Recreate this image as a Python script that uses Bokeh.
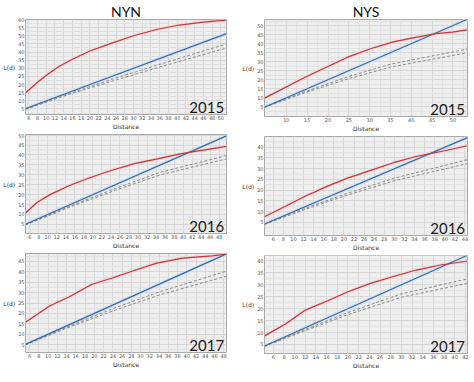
from bokeh.plotting import figure
from bokeh.layouts import row, column
from bokeh.models import Range1d, FixedTicker, Label
from bokeh.embed import file_html
from bokeh.resources import INLINE

# ---------------- data ----------------
# NYN 2015
nyn15_xr = (5.25, 51.3); nyn15_yr = (1.6, 60.0)
nyn15_xt = list(range(6, 51, 2)); nyn15_yt = list(range(5, 61, 5))
nyn15_red_x = [5.3, 8, 10.5, 13, 16, 20, 25, 30, 35.5, 40.5, 46, 51.2]
nyn15_red_y = [15, 21.4, 26.7, 31.3, 35.6, 40.6, 45.5, 50, 54, 56.6, 58.4, 59.6]
nyn15_blue_x = [5.3, 51.3]; nyn15_blue_y = [5.3, 51.3]
nyn15_env_x = [5.3, 15, 25, 35, 51.3]
nyn15_up_y = [5.0, 14.3, 23.2, 31.6, 45.0]
nyn15_lo_y = [4.8, 13.8, 22.0, 30.0, 42.5]

# NYS 2015
nys15_xr = (4.75, 53.5); nys15_yr = (-0.4, 53.4)
nys15_xt = list(range(10, 51, 5)); nys15_yt = list(range(5, 51, 5))
nys15_red_x = [4.75, 14.5, 24.7, 30.2, 35.7, 40.4, 45.9, 49.8, 53.5]
nys15_red_y = [9.8, 21.4, 32.5, 37.2, 41.0, 43.2, 45.6, 46.4, 47.6]
nys15_blue_x = [4.75, 53.5]; nys15_blue_y = [4.75, 53.5]
nys15_env_x = [4.75, 15, 25, 35, 53.5]
nys15_up_y = [4.9, 13.8, 21.8, 28.6, 37.0]
nys15_lo_y = [4.7, 13.2, 20.6, 27.0, 35.0]

# NYN 2016
nyn16_xr = (5.06, 49.6); nyn16_yr = (0.4, 50.3)
nyn16_xt = list(range(6, 49, 2)); nyn16_yt = list(range(5, 51, 5))
nyn16_red_x = [5.06, 7.6, 10.5, 14.8, 19.9, 24.2, 29.2, 34.3, 39.3, 44.4, 49.6]
nyn16_red_y = [10.7, 16.0, 20.0, 24.6, 29.0, 32.3, 35.6, 38.0, 40.5, 42.4, 44.3]
nyn16_blue_x = [5.06, 49.6]; nyn16_blue_y = [5.06, 49.6]
nyn16_env_x = [5.06, 15, 25, 35, 49.6]
nyn16_up_y = [4.9, 14.3, 23.1, 31.3, 39.7]
nyn16_lo_y = [4.7, 13.8, 22.2, 30.0, 38.0]

# NYS 2016
nys16_xr = (4.25, 44.5); nys16_yr = (-1.1, 45.0)
nys16_xt = list(range(6, 45, 2)); nys16_yt = list(range(5, 41, 5))
nys16_red_x = [4.25, 8.5, 12.3, 16.9, 20.7, 25.3, 29.8, 34.3, 38.8, 44.5]
nys16_red_y = [7.6, 12.6, 17.2, 22.0, 25.6, 29.2, 32.8, 35.7, 37.8, 40.7]
nys16_blue_x = [4.25, 44.5]; nys16_blue_y = [4.25, 44.5]
nys16_env_x = [4.25, 12, 20, 30, 44.5]
nys16_up_y = [4.2, 11.3, 18.0, 25.6, 34.2]
nys16_lo_y = [4.1, 10.8, 17.2, 24.4, 32.4]

# NYN 2017
nyn17_xr = (5.1, 48.6); nyn17_yr = (1.2, 48.8)
nyn17_xt = list(range(6, 49, 2)); nyn17_yt = list(range(5, 46, 5))
nyn17_red_x = [5.1, 7.5, 10.4, 14.6, 19.5, 23.7, 28.6, 33.5, 39.1, 45.5, 48.6]
nyn17_red_y = [15.7, 19.3, 23.7, 28.0, 34.0, 36.9, 40.6, 44.2, 46.6, 47.7, 48.5]
nyn17_blue_x = [5.1, 48.6]; nyn17_blue_y = [5.1, 48.6]
nyn17_env_x = [5.1, 14, 24, 34, 48.6]
nyn17_up_y = [5.0, 13.4, 22.3, 30.3, 40.3]
nyn17_lo_y = [4.9, 12.9, 21.2, 28.8, 37.9]

# NYS 2017
nys17_xr = (4.35, 42.4); nys17_yr = (1.2, 42.3)
nys17_xt = list(range(6, 43, 2)); nys17_yt = list(range(5, 41, 5))
nys17_red_x = [4.35, 8.3, 12.0, 16.3, 20.0, 24.2, 28.5, 32.8, 37.1, 42.4]
nys17_red_y = [8.6, 13.6, 19.4, 23.4, 27.1, 30.6, 33.5, 36.2, 38.2, 40.0]
nys17_blue_x = [4.35, 42.4]; nys17_blue_y = [4.35, 42.4]
nys17_env_x = [4.35, 12, 20, 30, 42.4]
nys17_up_y = [4.3, 11.3, 18.4, 26.2, 32.5]
nys17_lo_y = [4.2, 10.8, 17.5, 24.8, 30.6]

RED = "#c0393e"
BLUE = "#3a6aa3"
GRAY = "#8c8c8c"


def mids(t):
    step = t[1] - t[0]
    return [t[0] - step / 2] + [v + step / 2 for v in t]


def panel(title, year, xr, yr, xt, yt, rx, ry, bx, by, ex, uy, ly,
          fw, fh, mbl, mbr, mbt, mbb, xminor):
    p = figure(frame_width=fw, frame_height=fh, output_backend="svg",
               toolbar_location=None, title=title,
               x_range=Range1d(*xr), y_range=Range1d(*yr),
               min_border_left=mbl, min_border_right=mbr,
               min_border_top=mbt, min_border_bottom=mbb,
               border_fill_color="white")
    p.background_fill_color = "#eeeeee"
    p.outline_line_color = "#a8a8a8"
    if title:
        p.title.align = "center"
        p.title.text_font = "Lato"
        p.title.text_font_style = "normal"
        p.title.text_font_size = "14px"
        p.title.text_color = "#111111"
        p.title.standoff = 0
        p.title.offset = 0
    p.xaxis.ticker = FixedTicker(ticks=xt, minor_ticks=(mids(xt) if xminor else []))
    p.yaxis.ticker = FixedTicker(ticks=yt, minor_ticks=mids(yt))
    for ax in (p.xaxis[0], p.yaxis[0]):
        ax.axis_line_color = None
        ax.major_tick_line_color = None
        ax.minor_tick_line_color = None
        ax.major_tick_out = 0
        ax.major_tick_in = 0
        ax.minor_tick_out = 0
        ax.minor_tick_in = 0
        ax.major_label_text_font = "DejaVu Sans"
        ax.major_label_text_font_size = "5px"
        ax.major_label_text_color = "#555555"
        ax.major_label_standoff = 1
        ax.axis_label_text_font = "DejaVu Sans"
        ax.axis_label_text_font_size = "6px"
        ax.axis_label_text_font_style = "normal"
        ax.axis_label_text_color = "#333333"
        ax.axis_label_standoff = 0
    p.xaxis.axis_label = "Distance"
    p.yaxis.axis_label = "L(d)"
    try:
        p.yaxis[0].axis_label_orientation = "horizontal"
    except Exception:
        pass
    p.xgrid.grid_line_color = "#d8d8d8"
    p.ygrid.grid_line_color = "#d8d8d8"
    p.xgrid.minor_grid_line_color = "#e2e2e2"
    p.ygrid.minor_grid_line_color = "#e2e2e2"
    # soft halos
    p.line(bx, by, line_color="#d3e3f2", line_width=3.5)
    p.line(rx, ry, line_color="#f3d6d6", line_width=3)
    # envelopes
    p.line(ex, uy, line_color=GRAY, line_width=1, line_dash="3 2")
    p.line(ex, ly, line_color=GRAY, line_width=1, line_dash="3 2")
    # lines
    p.line(bx, by, line_color=BLUE, line_width=1.2)
    p.line(rx, ry, line_color=RED, line_width=1.2)
    lab = Label(x=xr[1] - 0.012 * (xr[1] - xr[0]), y=yr[0] + 0.015 * (yr[1] - yr[0]),
                text=year, text_align="right", text_baseline="bottom",
                text_font="Lato", text_font_style="normal",
                text_font_size="15px", text_color="#1a1a1a")
    p.add_layout(lab)
    return p


MB = 19

p1 = panel("NYN", "2015", nyn15_xr, nyn15_yr, nyn15_xt, nyn15_yt,
           nyn15_red_x, nyn15_red_y, nyn15_blue_x, nyn15_blue_y,
           nyn15_env_x, nyn15_up_y, nyn15_lo_y, 201, 95, 18, 13, 14, MB, False)
p3 = panel(None, "2016", nyn16_xr, nyn16_yr, nyn16_xt, nyn16_yt,
           nyn16_red_x, nyn16_red_y, nyn16_blue_x, nyn16_blue_y,
           nyn16_env_x, nyn16_up_y, nyn16_lo_y, 201, 99, 18, 13, 1, MB, False)
p5 = panel(None, "2017", nyn17_xr, nyn17_yr, nyn17_xt, nyn17_yt,
           nyn17_red_x, nyn17_red_y, nyn17_blue_x, nyn17_blue_y,
           nyn17_env_x, nyn17_up_y, nyn17_lo_y, 201, 99, 18, 13, 1, MB, False)

p2 = panel("NYS", "2015", nys15_xr, nys15_yr, nys15_xt, nys15_yt,
           nys15_red_x, nys15_red_y, nys15_blue_x, nys15_blue_y,
           nys15_env_x, nys15_up_y, nys15_lo_y, 203, 97, 22, 1, 13, MB, True)
p4 = panel(None, "2016", nys16_xr, nys16_yr, nys16_xt, nys16_yt,
           nys16_red_x, nys16_red_y, nys16_blue_x, nys16_blue_y,
           nys16_env_x, nys16_up_y, nys16_lo_y, 203, 99, 22, 1, 1, MB, False)
p6 = panel(None, "2017", nys17_xr, nys17_yr, nys17_xt, nys17_yt,
           nys17_red_x, nys17_red_y, nys17_blue_x, nys17_blue_y,
           nys17_env_x, nys17_up_y, nys17_lo_y, 203, 98, 22, 1, 1, MB, False)

layout = row(column(p1, p3, p5, spacing=0), column(p2, p4, p6, spacing=0), spacing=0)

open("out.html", "w").write(file_html(layout, INLINE))
